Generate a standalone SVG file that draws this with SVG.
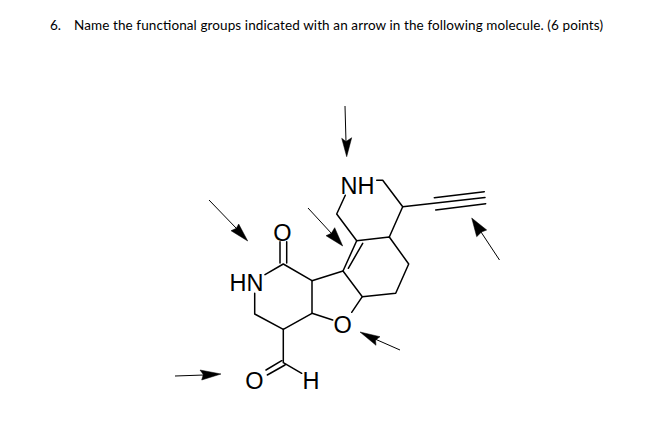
<svg xmlns="http://www.w3.org/2000/svg" width="670" height="422" viewBox="0 0 670 422">
<style>
.q{font-family:Lato,"Liberation Sans",sans-serif;font-size:13.5px;fill:#000}
.a{font-family:"Liberation Sans",Arial,sans-serif;font-size:23.5px;fill:#000}
.b{fill:none;stroke:#000;stroke-width:1.5;stroke-linecap:round;stroke-linejoin:round}
.t{stroke:#000;stroke-width:1;fill:none}
.h{fill:#000;stroke:#000;stroke-width:.5;stroke-linejoin:miter}
</style>
<rect width="670" height="422" fill="#fff"/>
<g id="question">
<text class="q" x="50" y="29.5">6.</text>
<text class="q" x="74" y="29.5" textLength="529" lengthAdjust="spacing">Name the functional groups indicated with an arrow in the following molecule. (6 points)</text>
</g>
<g id="bonds">
<path class="b" d="M280 241.7V263M286.7 241.7V263"/>
<path class="b" d="M265 274.7L283.3 264L312 280.7V313.3L283.3 329.3L254.7 314V293.3"/>
<path class="b" d="M312 280.7L343 271L362.3 296.7L351.7 312.3M312 313.3L332.7 320"/>
<path class="b" d="M362.3 296.7L395.7 293.3L408.7 264L389.3 237L356.7 240.7L343 271M362.7 243.3L348.3 268.3"/>
<path class="b" d="M389.3 237L402.7 206.7L382.7 180.3H376.7M356.7 240.7L336.7 214L345.3 195.3"/>
<path class="b" d="M402.7 206.7L485 197.5M434.3 197.7L484.3 191.7M435.7 210L485.7 203.7"/>
<path class="b" d="M283.3 329.3V362.7L301.7 373.3M266 370L281.7 360.7M267.3 375L285 365"/>
</g>
<g id="atom-O1"><text class="a" x="282.3" y="241" text-anchor="middle">O</text></g>
<g id="atom-NH1"><text class="a" x="340.5" y="194">NH</text></g>
<g id="atom-HN"><text class="a" x="229.5" y="290.7">HN</text></g>
<g id="atom-O2"><text class="a" x="342.7" y="332.8" text-anchor="middle">O</text></g>
<g id="atom-O3"><text class="a" x="254.3" y="389.3" text-anchor="middle">O</text></g>
<g id="atom-H"><text class="a" x="311" y="389" text-anchor="middle">H</text></g>
<g id="arrows">
<path class="t" d="M345 106L346 142"/>
<path class="h" d="M346.7 156.7L341.7 138.3L346 141.5L351.7 137.7Z"/>
<path class="t" d="M209 200L237 229"/>
<path class="h" d="M247.7 241L231 230.7L236.3 228.3L238.7 224Z"/>
<path class="t" d="M308 208L332 234"/>
<path class="h" d="M342.7 246L326 235.7L331.3 233.3L334.7 227.7Z"/>
<path class="t" d="M499.5 260L481 232"/>
<path class="h" d="M471.7 218L486.7 230L481.5 232L476.7 236.7Z"/>
<path class="t" d="M400 350L375 339"/>
<path class="h" d="M360 332L380 336.7L375.5 340L376 345.3Z"/>
<path class="t" d="M175 376L204 375"/>
<path class="h" d="M221 374L200 370L203.3 374.5L201.7 380Z"/>
</g>
</svg>
